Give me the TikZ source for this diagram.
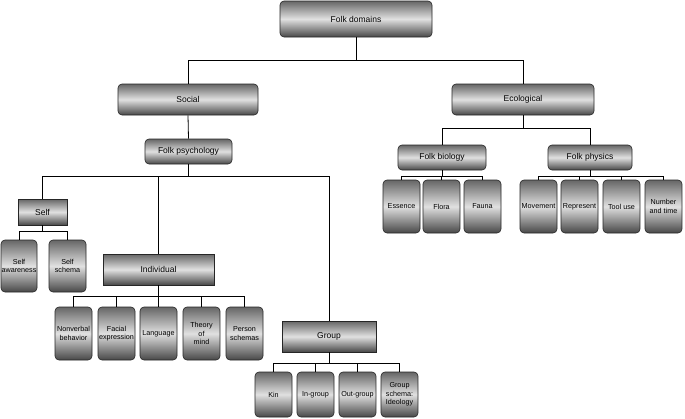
\documentclass[tikz,border=0pt]{standalone}
\usepackage{fontspec}
\setmainfont{Liberation Sans}
\begin{document}
\begin{tikzpicture}[x=1pt,y=-1pt,
  box/.style={draw=black!85, line width=0.6pt, top color=black!60, bottom color=black!72, middle color=black!12, inner sep=0pt, font=\fontsize{8.5}{10}\selectfont, align=center},
  rbox/.style={box, rounded corners=4pt},
  sbox/.style={box},
  leaf/.style={box, rounded corners=4pt, font=\fontsize{7.2}{8.6}\selectfont},
  conn/.style={line width=0.8pt, black}]
\useasboundingbox (0,0) rectangle (685,418);
\newcommand{\bx}[6]{\node[#1, minimum width=#4-#2, minimum height=#5-#3] (#6) at ({(#2+#4)/2},{(#3+#5)/2})}
\bx{rbox}{280}{1}{432}{37}{fd} {Folk domains};
\bx{rbox}{118}{84}{258}{115}{soc} {Social};
\bx{rbox}{452}{84}{594}{115}{eco} {Ecological};
\bx{rbox}{145}{139}{232}{164}{fpsy} {Folk psychology};
\bx{rbox}{398}{145}{486}{170}{fbio} {Folk biology};
\bx{rbox}{548}{145}{632}{170}{fphy} {Folk physics};
\bx{leaf}{383}{180}{420}{233}{ess} {Essence};
\bx{leaf}{423}{180}{460}{233}{flo} {Flora};
\bx{leaf}{464}{180}{501}{233}{fau} {Fauna};
\bx{leaf}{520}{180}{557}{233}{mov} {Movement};
\bx{leaf}{561}{180}{598}{233}{rep} {Represent};
\bx{leaf}{603}{180}{640}{233}{tool} {Tool use};
\bx{leaf}{645}{180}{682}{233}{num} {Number\\and time};
\bx{sbox}{18}{199}{67}{225}{self} {Self};
\bx{leaf}{1}{240}{37}{292}{sa} {Self\\awareness};
\bx{leaf}{49}{240}{86}{292}{ss} {Self\\schema};
\bx{sbox}{103}{254}{214}{285}{ind} {Individual};
\bx{leaf}{55}{307}{92}{360}{nv} {Nonverbal\\behavior};
\bx{leaf}{98}{307}{135}{360}{fe} {Facial\\expression};
\bx{leaf}{140}{307}{177}{360}{lang} {Language};
\bx{leaf}{183}{307}{220}{360}{tom} {Theory\\of\\mind};
\bx{leaf}{226}{307}{263}{360}{ps} {Person\\schemas};
\bx{sbox}{282}{321}{376}{352}{grp} {Group};
\bx{leaf}{255}{372}{292}{417}{kin} {Kin};
\bx{leaf}{297}{372}{334}{417}{ing} {In-group};
\bx{leaf}{339}{372}{376}{417}{outg} {Out-group};
\bx{leaf}{381}{372}{418}{417}{gs} {Group\\schema:\\Ideology};
% connectors
\draw[conn] (fd.south) -- ++(0,23) -| (soc.north);
\draw[conn] (fd.south) -- ++(0,23) -| (eco.north);
\draw[conn] (soc.south) -- (fpsy.north);
\draw[conn] (fpsy.south) -- ++(0,12) -| (self.north);
\draw[conn] (fpsy.south) -- ++(0,12) -| (ind.north);
\draw[conn] (fpsy.south) -- ++(0,12) -| (grp.north);
\draw[conn] (eco.south) -- ++(0,13) -| (fbio.north);
\draw[conn] (eco.south) -- ++(0,13) -| (fphy.north);
\foreach \c in {ess,flo,fau} \draw[conn] (fbio.south) -- ++(0,6) -| (\c.north);
\foreach \c in {mov,rep,tool,num} \draw[conn] (fphy.south) -- ++(0,6) -| (\c.north);
\foreach \c in {sa,ss} \draw[conn] (self.south) -- ++(0,6) -| (\c.north);
\foreach \c in {nv,fe,lang,tom,ps} \draw[conn] (ind.south) -- ++(0,11) -| (\c.north);
\foreach \c in {kin,ing,outg,gs} \draw[conn] (grp.south) -- ++(0,11) -| (\c.north);
\end{tikzpicture}
\end{document}
